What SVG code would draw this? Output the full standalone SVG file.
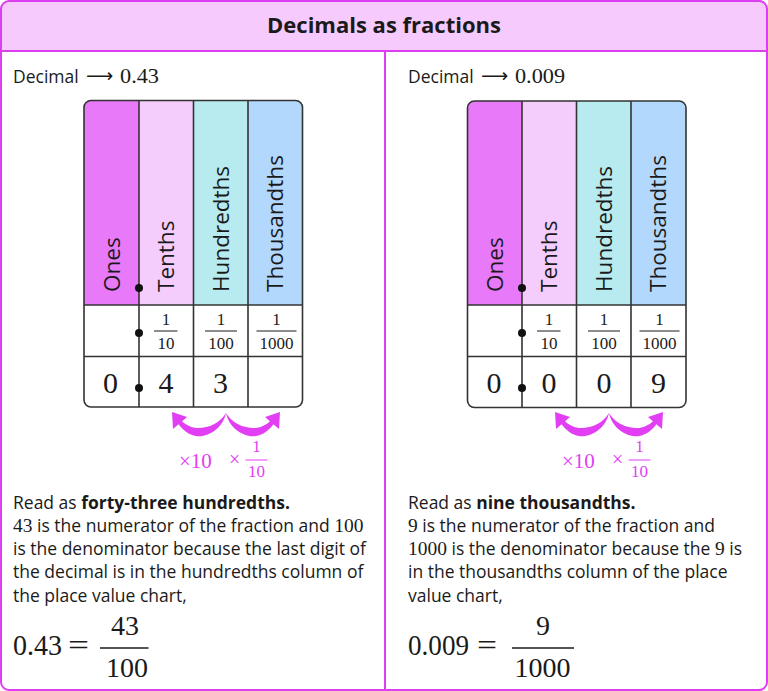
<svg xmlns="http://www.w3.org/2000/svg" width="768" height="691" viewBox="0 0 768 691">
<style>
.sans{font-family:"Open Sans","Noto Sans",sans-serif;fill:#1a1a1a}
.math{font-family:"Liberation Serif","DejaVu Serif",serif;fill:#1a1a1a}
.hdr{font-family:"Open Sans","Noto Sans",sans-serif;font-size:22.5px;fill:#1a1a1a}
.grid{stroke:#333;stroke-width:1.6;fill:none}
.mag{fill:#e23ef4}
.magt{font-family:"Liberation Serif","DejaVu Serif",serif;fill:#e23ef4}
.body{font-family:"Open Sans","Noto Sans",sans-serif;font-size:17.5px;fill:#1a1a1a}
.bm{font-family:"Liberation Serif","DejaVu Serif",serif;font-size:19.5px}
</style>
<defs>
<clipPath id="clipL"><rect x="84" y="100.5" width="218.5" height="306.5" rx="7"/></clipPath>
<clipPath id="clipR"><rect x="467.5" y="101" width="218.5" height="306.5" rx="7"/></clipPath>
<path id="arcL" d="M0,0 C-3,15 -18,25 -30,23 C-37,22 -43,17 -47.4,11.2 L-53,16 L-54,-1 L-39,4 L-43.9,8.2 C-40,12 -34,15 -28,15 C-17,15 -6,10 0,0 Z"/>
</defs>

<g id="frame">
<rect x="1" y="1" width="766" height="689" rx="8" fill="#fff"/>
<path d="M1,51 V9 A8,8 0 0 1 9,1 H759 A8,8 0 0 1 767,9 V51 Z" fill="#f6cafc"/>
<line x1="1" y1="51" x2="767" y2="51" stroke="#dc3ef0" stroke-width="2"/>
<line x1="385" y1="51" x2="385" y2="690" stroke="#dc3ef0" stroke-width="2"/>
<rect x="1" y="1" width="766" height="689" rx="8" fill="none" stroke="#dc3ef0" stroke-width="2"/>
<text x="384" y="33" text-anchor="middle" class="sans" font-size="22" font-weight="bold">Decimals as fractions</text>
</g>

<g id="left-panel">
<text x="13" y="83" class="sans" font-size="17.5">Decimal</text>
<text x="86" y="82" font-family="DejaVu Sans,sans-serif" font-size="19" fill="#1a1a1a">⟶</text>
<text x="120" y="83" class="math" font-size="21" textLength="39" lengthAdjust="spacingAndGlyphs">0.43</text>

<g id="chartL">
<g clip-path="url(#clipL)">
<rect x="84" y="100" width="55" height="205" fill="#e879f9"/>
<rect x="139" y="100" width="54.5" height="205" fill="#f5cdfd"/>
<rect x="193.5" y="100" width="54.5" height="205" fill="#b7ebf0"/>
<rect x="248" y="100" width="55" height="205" fill="#b3d8fd"/>
</g>
<g class="grid">
<line x1="84" y1="305" x2="302.5" y2="305"/>
<line x1="84" y1="356.5" x2="302.5" y2="356.5"/>
<line x1="139" y1="100.5" x2="139" y2="407"/>
<line x1="193.5" y1="100.5" x2="193.5" y2="407"/>
<line x1="248" y1="100.5" x2="248" y2="407"/>
<rect x="84" y="100.5" width="218.5" height="306.5" rx="7"/>
</g>
<text class="hdr" transform="translate(119.5,292) rotate(-90)">Ones</text>
<text class="hdr" transform="translate(174,292) rotate(-90)">Tenths</text>
<text class="hdr" transform="translate(228.5,292) rotate(-90)">Hundredths</text>
<text class="hdr" transform="translate(283,292) rotate(-90)">Thousandths</text>
<g class="math" font-size="17" text-anchor="middle">
<text x="166" y="325">1</text><text x="166" y="349">10</text>
<text x="221" y="325">1</text><text x="221" y="349">100</text>
<text x="276.5" y="325">1</text><text x="276.5" y="349">1000</text>
</g>
<g stroke="#1a1a1a" stroke-width="1">
<line x1="154" y1="331" x2="177.5" y2="331"/>
<line x1="205" y1="331" x2="237" y2="331"/>
<line x1="256.5" y1="331" x2="296.5" y2="331"/>
</g>
<g class="math" font-size="30" text-anchor="middle">
<text x="110.5" y="393">0</text>
<text x="166" y="393">4</text>
<text x="220.5" y="393">3</text>
</g>
<g fill="#111">
<circle cx="139" cy="288" r="4"/>
<circle cx="139" cy="333" r="4"/>
<circle cx="139" cy="388" r="4"/>
</g>
</g>
</g>

<g id="right-panel">
<text x="408" y="83" class="sans" font-size="17.5">Decimal</text>
<text x="481" y="82" font-family="DejaVu Sans,sans-serif" font-size="19" fill="#1a1a1a">⟶</text>
<text x="515" y="83" class="math" font-size="21" textLength="50" lengthAdjust="spacingAndGlyphs">0.009</text>

<g id="chartR">
<g clip-path="url(#clipR)">
<rect x="467.5" y="101" width="54.5" height="204" fill="#e879f9"/>
<rect x="522" y="101" width="54.5" height="204" fill="#f5cdfd"/>
<rect x="576.5" y="101" width="54.5" height="204" fill="#b7ebf0"/>
<rect x="631" y="101" width="55" height="204" fill="#b3d8fd"/>
</g>
<g class="grid">
<line x1="467.5" y1="305" x2="686" y2="305"/>
<line x1="467.5" y1="356.5" x2="686" y2="356.5"/>
<line x1="522" y1="101" x2="522" y2="407.5"/>
<line x1="576.5" y1="101" x2="576.5" y2="407.5"/>
<line x1="631" y1="101" x2="631" y2="407.5"/>
<rect x="467.5" y="101" width="218.5" height="306.5" rx="7"/>
</g>
<text class="hdr" transform="translate(502.5,292) rotate(-90)">Ones</text>
<text class="hdr" transform="translate(557,292) rotate(-90)">Tenths</text>
<text class="hdr" transform="translate(611.5,292) rotate(-90)">Hundredths</text>
<text class="hdr" transform="translate(666,292) rotate(-90)">Thousandths</text>
<g class="math" font-size="17" text-anchor="middle">
<text x="549" y="325">1</text><text x="549" y="349">10</text>
<text x="604" y="325">1</text><text x="604" y="349">100</text>
<text x="659.5" y="325">1</text><text x="659.5" y="349">1000</text>
</g>
<g stroke="#1a1a1a" stroke-width="1">
<line x1="537" y1="331" x2="560.5" y2="331"/>
<line x1="588" y1="331" x2="620" y2="331"/>
<line x1="639.5" y1="331" x2="679.5" y2="331"/>
</g>
<g class="math" font-size="30" text-anchor="middle">
<text x="494" y="393">0</text>
<text x="549" y="393">0</text>
<text x="604" y="393">0</text>
<text x="658.5" y="393">9</text>
</g>
<g fill="#111">
<circle cx="522" cy="288" r="4"/>
<circle cx="522" cy="333" r="4"/>
<circle cx="522" cy="388" r="4"/>
</g>
</g>
</g>

<g id="connectors">
<use href="#arcL" class="mag" transform="translate(226,413)"/>
<use href="#arcL" class="mag" transform="translate(226,413) scale(-1,1)"/>
<use href="#arcL" class="mag" transform="translate(609,413)"/>
<use href="#arcL" class="mag" transform="translate(609,413) scale(-1,1)"/>
</g>

<g id="labels">
<text x="179" y="468" class="magt" font-size="21">×10</text>
<text x="229" y="466" class="magt" font-size="20">×</text>
<text x="256.5" y="452" class="magt" font-size="17" text-anchor="middle">1</text>
<line x1="245.5" y1="460" x2="267.5" y2="460" stroke="#e23ef4" stroke-width="1"/>
<text x="256.5" y="477" class="magt" font-size="17" text-anchor="middle">10</text>

<text x="562" y="468" class="magt" font-size="21">×10</text>
<text x="612" y="466" class="magt" font-size="20">×</text>
<text x="639.5" y="452" class="magt" font-size="17" text-anchor="middle">1</text>
<line x1="628.5" y1="460" x2="650.5" y2="460" stroke="#e23ef4" stroke-width="1"/>
<text x="639.5" y="477" class="magt" font-size="17" text-anchor="middle">10</text>
</g>

<g id="left-text">
<text x="13" y="508.5" class="body">Read as <tspan font-weight="bold">forty-three hundredths.</tspan></text>
<text x="13" y="531.8" class="body"><tspan class="bm">43</tspan> is the numerator of the fraction and <tspan class="bm">100</tspan></text>
<text x="13" y="555" class="body">is the denominator because the last digit of</text>
<text x="13" y="578.3" class="body">the decimal is in the hundredths column of</text>
<text x="13" y="601.6" class="body">the place value chart,</text>
<text x="13" y="655" class="math" font-size="29" textLength="49" lengthAdjust="spacingAndGlyphs">0.43</text>
<text x="68" y="655" class="math" font-size="29" textLength="21" lengthAdjust="spacingAndGlyphs">=</text>
<text x="125" y="635" class="math" font-size="28" text-anchor="middle">43</text>
<line x1="100" y1="648" x2="148.5" y2="648" stroke="#1a1a1a" stroke-width="1.5"/>
<text x="127" y="677" class="math" font-size="28" text-anchor="middle">100</text>
</g>

<g id="right-text">
<text x="408" y="508.5" class="body">Read as <tspan font-weight="bold">nine thousandths.</tspan></text>
<text x="408" y="531.8" class="body"><tspan class="bm">9</tspan> is the numerator of the fraction and</text>
<text x="408" y="555" class="body"><tspan class="bm">1000</tspan> is the denominator because the <tspan class="bm">9</tspan> is</text>
<text x="408" y="578.3" class="body">in the thousandths column of the place</text>
<text x="408" y="601.6" class="body">value chart,</text>
<text x="408" y="655" class="math" font-size="29" textLength="61" lengthAdjust="spacingAndGlyphs">0.009</text>
<text x="477" y="655" class="math" font-size="29" textLength="20" lengthAdjust="spacingAndGlyphs">=</text>
<text x="543" y="635" class="math" font-size="28" text-anchor="middle">9</text>
<line x1="512" y1="648" x2="574" y2="648" stroke="#1a1a1a" stroke-width="1.5"/>
<text x="542.5" y="677" class="math" font-size="28" text-anchor="middle">1000</text>
</g>
</svg>
